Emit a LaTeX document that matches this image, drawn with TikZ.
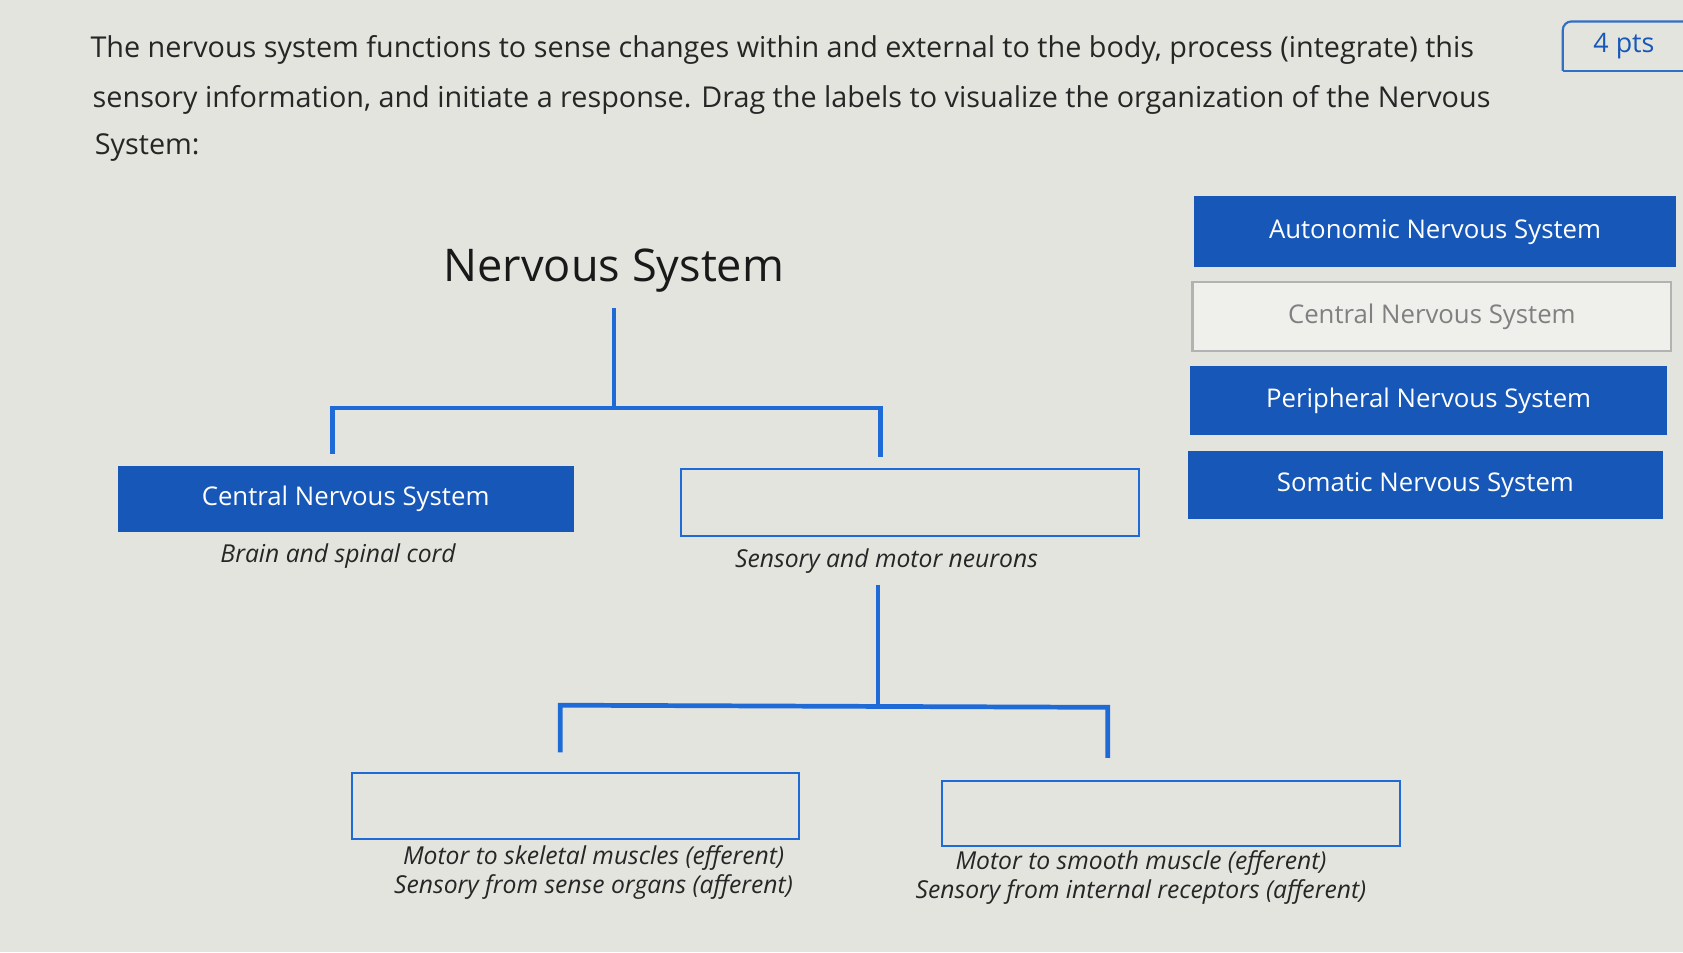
\documentclass[tikz,border=0pt]{standalone}
\usepackage{fontspec}
\setmainfont{Open Sans}
\begin{document}
\begin{tikzpicture}[x=0.5pt,y=-0.5pt,
  blue box/.style={draw=none,fill=dblue,text=white,font=\fontsize{12}{14}\selectfont,inner sep=0pt},
  empty box/.style={draw=lblue,line width=1pt,fill=none,inner sep=0pt},
  tree/.style={draw=lblue,line width=2.2pt},
  para/.style={anchor=west,font=\fontsize{13.4}{16}\selectfont,text=black!85,inner sep=0pt},
  lab/.style={font=\fontsize{11.5}{14}\selectfont\itshape,text=black!85,align=center}]
\definecolor{dblue}{HTML}{1657B8}
\definecolor{lblue}{HTML}{1E6AD6}
\definecolor{bg}{HTML}{E4E4DF}
\fill[bg] (0,0) rectangle (1568,887);
\useasboundingbox (0,0) rectangle (1568,887);
% paragraph
\node[para] (p1) at (84,47) {The nervous system functions to sense changes within and external to the body, process (integrate) this};
\node[para] (p2) at (86,93) {sensory information, and initiate a response. Drag the labels to visualize the organization of the Nervous};
\node[para] (p3) at (88,137) {System:};
\draw[draw=lblue!80!gray,line width=1pt,rounded corners=4pt] (1456,66) -- (1456,20) -- (1580,20);
\draw[draw=lblue!80!gray,line width=1pt] (1456,66) -- (1580,66);
\node[font=\fontsize{12.5}{14}\selectfont,text=dblue] (pts) at (1513,43) {4 pts};
% right palette
\node[blue box,minimum width=224.5pt,minimum height=33pt] (ans) at (1337,216) {Autonomic Nervous System};
\node[draw=gray!60,line width=1pt,fill=bg!60!white,text=gray,font=\fontsize{12}{14}\selectfont,minimum width=223pt,minimum height=32pt,inner sep=0pt] (cns2) at (1334,295) {Central Nervous System};
\node[blue box,minimum width=222pt,minimum height=32pt] (pns) at (1331,373) {Peripheral Nervous System};
\node[blue box,minimum width=221pt,minimum height=32pt] (sns) at (1328,452) {Somatic Nervous System};
% tree
\node[font=\fontsize{21}{24}\selectfont,text=black!90] (ns) at (572,252) {Nervous System};
\node[blue box,minimum width=212.5pt,minimum height=31pt] (cns) at (322,465) {Central Nervous System};
\node[empty box,minimum width=213.5pt,minimum height=31pt] (e1) at (848,468) {};
\node[lab] (l1) at (315,518) {Brain and spinal cord};
\node[lab] (l2) at (826,523) {Sensory and motor neurons};
\node[empty box,minimum width=208pt,minimum height=31pt] (e2) at (536,751) {};
\node[empty box,minimum width=213pt,minimum height=30pt] (e3) at (1091,758) {};
\node[lab,font=\fontsize{11.5}{13.5}\selectfont\itshape] (l3) at (553,813) {Motor to skeletal muscles (efferent)\\Sensory from sense organs (afferent)};
\node[lab,font=\fontsize{11.5}{13.5}\selectfont\itshape] (l4) at (1063,818) {Motor to smooth muscle (efferent)\\Sensory from internal receptors (afferent)};
\coordinate (t1) at (572,287); \coordinate (j1) at (572,380);
\coordinate (a1) at (310,380); \coordinate (b1) at (820,380);
\coordinate (a1d) at (310,423); \coordinate (b1d) at (820,426);
\draw[tree] (t1) -- (j1);
\draw[tree] (a1d) -- (a1) -- (b1) -- (b1d);
\coordinate (t2) at (818,545); \coordinate (j2) at (818,657);
\coordinate (a2) at (522,657); \coordinate (b2) at (1032,659);
\coordinate (a2d) at (522,701); \coordinate (b2d) at (1032,706);
\draw[tree] (t2) -- (j2);
\draw[tree] (a2d) -- (a2) -- (b2) -- (b2d);
\end{tikzpicture}
\end{document}
